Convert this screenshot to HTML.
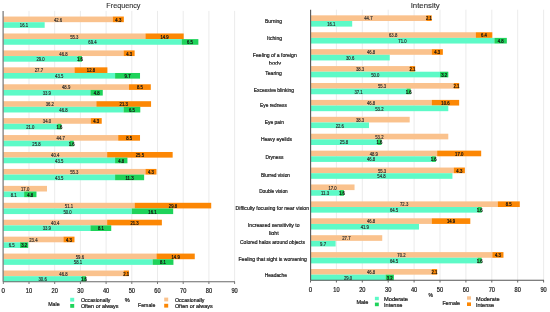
<!DOCTYPE html>
<html><head><meta charset="utf-8"><style>
html,body{margin:0;padding:0;background:#fff;width:550px;height:312px;overflow:hidden}
svg{display:block;filter:blur(0.3px)}
text{font-family:"Liberation Sans", sans-serif}
</style></head><body>
<svg width="550" height="312" viewBox="0 0 550 312">
<rect width="550" height="312" fill="#fff"/>
<line x1="29.00" y1="10.90" x2="29.00" y2="281.80" stroke="#E6E6E6" stroke-width="0.8"/>
<line x1="54.70" y1="10.90" x2="54.70" y2="281.80" stroke="#E6E6E6" stroke-width="0.8"/>
<line x1="80.40" y1="10.90" x2="80.40" y2="281.80" stroke="#E6E6E6" stroke-width="0.8"/>
<line x1="106.10" y1="10.90" x2="106.10" y2="281.80" stroke="#E6E6E6" stroke-width="0.8"/>
<line x1="131.80" y1="10.90" x2="131.80" y2="281.80" stroke="#E6E6E6" stroke-width="0.8"/>
<line x1="157.50" y1="10.90" x2="157.50" y2="281.80" stroke="#E6E6E6" stroke-width="0.8"/>
<line x1="183.20" y1="10.90" x2="183.20" y2="281.80" stroke="#E6E6E6" stroke-width="0.8"/>
<line x1="208.90" y1="10.90" x2="208.90" y2="281.80" stroke="#E6E6E6" stroke-width="0.8"/>
<line x1="234.60" y1="10.90" x2="234.60" y2="281.80" stroke="#E6E6E6" stroke-width="0.8"/>
<rect x="3.30" y="16.54" width="109.48" height="5.64" fill="#FAC28D"/>
<rect x="112.78" y="16.54" width="11.05" height="5.64" fill="#FC8704"/>
<rect x="3.30" y="22.19" width="41.38" height="5.64" fill="#5DFAC7"/>
<text x="58.04" y="21.67" font-size="4.6" fill="#2b2b2b" text-anchor="middle" textLength="8.24" lengthAdjust="spacingAndGlyphs" stroke="#2b2b2b" stroke-width="0.15">42.6</text>
<text x="118.31" y="21.67" font-size="4.6" fill="#141414" text-anchor="middle" textLength="5.88" lengthAdjust="spacingAndGlyphs" stroke="#141414" stroke-width="0.22">4.3</text>
<text x="23.99" y="27.31" font-size="4.6" fill="#2b2b2b" text-anchor="middle" textLength="8.24" lengthAdjust="spacingAndGlyphs" stroke="#2b2b2b" stroke-width="0.15">16.1</text>
<rect x="3.30" y="33.48" width="142.12" height="5.64" fill="#FAC28D"/>
<rect x="145.42" y="33.48" width="38.29" height="5.64" fill="#FC8704"/>
<rect x="3.30" y="39.12" width="178.36" height="5.64" fill="#5DFAC7"/>
<rect x="181.66" y="39.12" width="16.70" height="5.64" fill="#1ED35A"/>
<text x="74.36" y="38.60" font-size="4.6" fill="#2b2b2b" text-anchor="middle" textLength="8.24" lengthAdjust="spacingAndGlyphs" stroke="#2b2b2b" stroke-width="0.15">55.3</text>
<text x="164.57" y="38.60" font-size="4.6" fill="#141414" text-anchor="middle" textLength="8.24" lengthAdjust="spacingAndGlyphs" stroke="#141414" stroke-width="0.22">14.9</text>
<text x="92.48" y="44.24" font-size="4.6" fill="#2b2b2b" text-anchor="middle" textLength="8.24" lengthAdjust="spacingAndGlyphs" stroke="#2b2b2b" stroke-width="0.15">69.4</text>
<text x="190.01" y="44.24" font-size="4.6" fill="#141414" text-anchor="middle" textLength="5.88" lengthAdjust="spacingAndGlyphs" stroke="#141414" stroke-width="0.22">6.5</text>
<rect x="3.30" y="50.41" width="120.28" height="5.64" fill="#FAC28D"/>
<rect x="123.58" y="50.41" width="11.05" height="5.64" fill="#FC8704"/>
<rect x="3.30" y="56.05" width="74.53" height="5.64" fill="#5DFAC7"/>
<rect x="77.83" y="56.05" width="4.11" height="5.64" fill="#1ED35A"/>
<text x="63.44" y="55.53" font-size="4.6" fill="#2b2b2b" text-anchor="middle" textLength="8.24" lengthAdjust="spacingAndGlyphs" stroke="#2b2b2b" stroke-width="0.15">46.8</text>
<text x="129.10" y="55.53" font-size="4.6" fill="#141414" text-anchor="middle" textLength="5.88" lengthAdjust="spacingAndGlyphs" stroke="#141414" stroke-width="0.22">4.3</text>
<text x="40.56" y="61.17" font-size="4.6" fill="#2b2b2b" text-anchor="middle" textLength="8.24" lengthAdjust="spacingAndGlyphs" stroke="#2b2b2b" stroke-width="0.15">29.0</text>
<text x="79.89" y="61.17" font-size="4.6" fill="#141414" text-anchor="middle" textLength="5.88" lengthAdjust="spacingAndGlyphs" stroke="#141414" stroke-width="0.22">1.6</text>
<rect x="3.30" y="67.34" width="71.19" height="5.64" fill="#FAC28D"/>
<rect x="74.49" y="67.34" width="32.90" height="5.64" fill="#FC8704"/>
<rect x="3.30" y="72.98" width="111.79" height="5.64" fill="#5DFAC7"/>
<rect x="115.09" y="72.98" width="24.93" height="5.64" fill="#1ED35A"/>
<text x="38.89" y="72.46" font-size="4.6" fill="#2b2b2b" text-anchor="middle" textLength="8.24" lengthAdjust="spacingAndGlyphs" stroke="#2b2b2b" stroke-width="0.15">27.7</text>
<text x="90.94" y="72.46" font-size="4.6" fill="#141414" text-anchor="middle" textLength="8.24" lengthAdjust="spacingAndGlyphs" stroke="#141414" stroke-width="0.22">12.8</text>
<text x="59.20" y="78.10" font-size="4.6" fill="#2b2b2b" text-anchor="middle" textLength="8.24" lengthAdjust="spacingAndGlyphs" stroke="#2b2b2b" stroke-width="0.15">43.5</text>
<text x="127.56" y="78.10" font-size="4.6" fill="#141414" text-anchor="middle" textLength="5.88" lengthAdjust="spacingAndGlyphs" stroke="#141414" stroke-width="0.22">9.7</text>
<rect x="3.30" y="84.27" width="125.67" height="5.64" fill="#FAC28D"/>
<rect x="128.97" y="84.27" width="21.84" height="5.64" fill="#FC8704"/>
<rect x="3.30" y="89.91" width="87.12" height="5.64" fill="#5DFAC7"/>
<rect x="90.42" y="89.91" width="12.34" height="5.64" fill="#1ED35A"/>
<text x="66.14" y="89.39" font-size="4.6" fill="#2b2b2b" text-anchor="middle" textLength="8.24" lengthAdjust="spacingAndGlyphs" stroke="#2b2b2b" stroke-width="0.15">48.9</text>
<text x="139.90" y="89.39" font-size="4.6" fill="#141414" text-anchor="middle" textLength="5.88" lengthAdjust="spacingAndGlyphs" stroke="#141414" stroke-width="0.22">8.5</text>
<text x="46.86" y="95.03" font-size="4.6" fill="#2b2b2b" text-anchor="middle" textLength="8.24" lengthAdjust="spacingAndGlyphs" stroke="#2b2b2b" stroke-width="0.15">33.9</text>
<text x="96.59" y="95.03" font-size="4.6" fill="#141414" text-anchor="middle" textLength="5.88" lengthAdjust="spacingAndGlyphs" stroke="#141414" stroke-width="0.22">4.8</text>
<rect x="3.30" y="101.20" width="93.03" height="5.64" fill="#FAC28D"/>
<rect x="96.33" y="101.20" width="54.74" height="5.64" fill="#FC8704"/>
<rect x="3.30" y="106.84" width="120.28" height="5.64" fill="#5DFAC7"/>
<rect x="123.58" y="106.84" width="16.70" height="5.64" fill="#1ED35A"/>
<text x="49.82" y="106.32" font-size="4.6" fill="#2b2b2b" text-anchor="middle" textLength="8.24" lengthAdjust="spacingAndGlyphs" stroke="#2b2b2b" stroke-width="0.15">36.2</text>
<text x="123.70" y="106.32" font-size="4.6" fill="#141414" text-anchor="middle" textLength="8.24" lengthAdjust="spacingAndGlyphs" stroke="#141414" stroke-width="0.22">21.3</text>
<text x="63.44" y="111.97" font-size="4.6" fill="#2b2b2b" text-anchor="middle" textLength="8.24" lengthAdjust="spacingAndGlyphs" stroke="#2b2b2b" stroke-width="0.15">46.8</text>
<text x="131.93" y="111.97" font-size="4.6" fill="#141414" text-anchor="middle" textLength="5.88" lengthAdjust="spacingAndGlyphs" stroke="#141414" stroke-width="0.22">6.5</text>
<rect x="3.30" y="118.13" width="87.38" height="5.64" fill="#FAC28D"/>
<rect x="90.68" y="118.13" width="11.05" height="5.64" fill="#FC8704"/>
<rect x="3.30" y="123.78" width="53.97" height="5.64" fill="#5DFAC7"/>
<rect x="57.27" y="123.78" width="4.11" height="5.64" fill="#1ED35A"/>
<text x="46.99" y="123.25" font-size="4.6" fill="#2b2b2b" text-anchor="middle" textLength="8.24" lengthAdjust="spacingAndGlyphs" stroke="#2b2b2b" stroke-width="0.15">34.0</text>
<text x="96.21" y="123.25" font-size="4.6" fill="#141414" text-anchor="middle" textLength="5.88" lengthAdjust="spacingAndGlyphs" stroke="#141414" stroke-width="0.22">4.3</text>
<text x="30.29" y="128.90" font-size="4.6" fill="#2b2b2b" text-anchor="middle" textLength="8.24" lengthAdjust="spacingAndGlyphs" stroke="#2b2b2b" stroke-width="0.15">21.0</text>
<text x="59.33" y="128.90" font-size="4.6" fill="#141414" text-anchor="middle" textLength="5.88" lengthAdjust="spacingAndGlyphs" stroke="#141414" stroke-width="0.22">1.6</text>
<rect x="3.30" y="135.06" width="114.88" height="5.64" fill="#FAC28D"/>
<rect x="118.18" y="135.06" width="21.84" height="5.64" fill="#FC8704"/>
<rect x="3.30" y="140.71" width="66.31" height="5.64" fill="#5DFAC7"/>
<rect x="69.61" y="140.71" width="4.11" height="5.64" fill="#1ED35A"/>
<text x="60.74" y="140.18" font-size="4.6" fill="#2b2b2b" text-anchor="middle" textLength="8.24" lengthAdjust="spacingAndGlyphs" stroke="#2b2b2b" stroke-width="0.15">44.7</text>
<text x="129.10" y="140.18" font-size="4.6" fill="#141414" text-anchor="middle" textLength="5.88" lengthAdjust="spacingAndGlyphs" stroke="#141414" stroke-width="0.22">8.5</text>
<text x="36.45" y="145.83" font-size="4.6" fill="#2b2b2b" text-anchor="middle" textLength="8.24" lengthAdjust="spacingAndGlyphs" stroke="#2b2b2b" stroke-width="0.15">25.8</text>
<text x="71.66" y="145.83" font-size="4.6" fill="#141414" text-anchor="middle" textLength="5.88" lengthAdjust="spacingAndGlyphs" stroke="#141414" stroke-width="0.22">1.6</text>
<rect x="3.30" y="151.99" width="103.83" height="5.64" fill="#FAC28D"/>
<rect x="107.13" y="151.99" width="65.53" height="5.64" fill="#FC8704"/>
<rect x="3.30" y="157.64" width="111.79" height="5.64" fill="#5DFAC7"/>
<rect x="115.09" y="157.64" width="12.34" height="5.64" fill="#1ED35A"/>
<text x="55.21" y="157.12" font-size="4.6" fill="#2b2b2b" text-anchor="middle" textLength="8.24" lengthAdjust="spacingAndGlyphs" stroke="#2b2b2b" stroke-width="0.15">40.4</text>
<text x="139.90" y="157.12" font-size="4.6" fill="#141414" text-anchor="middle" textLength="8.24" lengthAdjust="spacingAndGlyphs" stroke="#141414" stroke-width="0.22">25.5</text>
<text x="59.20" y="162.76" font-size="4.6" fill="#2b2b2b" text-anchor="middle" textLength="8.24" lengthAdjust="spacingAndGlyphs" stroke="#2b2b2b" stroke-width="0.15">43.5</text>
<text x="121.26" y="162.76" font-size="4.6" fill="#141414" text-anchor="middle" textLength="5.88" lengthAdjust="spacingAndGlyphs" stroke="#141414" stroke-width="0.22">4.8</text>
<rect x="3.30" y="168.93" width="142.12" height="5.64" fill="#FAC28D"/>
<rect x="145.42" y="168.93" width="11.05" height="5.64" fill="#FC8704"/>
<rect x="3.30" y="174.57" width="111.79" height="5.64" fill="#5DFAC7"/>
<rect x="115.09" y="174.57" width="29.04" height="5.64" fill="#1ED35A"/>
<text x="74.36" y="174.05" font-size="4.6" fill="#2b2b2b" text-anchor="middle" textLength="8.24" lengthAdjust="spacingAndGlyphs" stroke="#2b2b2b" stroke-width="0.15">55.3</text>
<text x="150.95" y="174.05" font-size="4.6" fill="#141414" text-anchor="middle" textLength="5.88" lengthAdjust="spacingAndGlyphs" stroke="#141414" stroke-width="0.22">4.3</text>
<text x="59.20" y="179.69" font-size="4.6" fill="#2b2b2b" text-anchor="middle" textLength="8.24" lengthAdjust="spacingAndGlyphs" stroke="#2b2b2b" stroke-width="0.15">43.5</text>
<text x="129.62" y="179.69" font-size="4.6" fill="#141414" text-anchor="middle" textLength="8.24" lengthAdjust="spacingAndGlyphs" stroke="#141414" stroke-width="0.22">11.3</text>
<rect x="3.30" y="185.86" width="43.69" height="5.64" fill="#FAC28D"/>
<rect x="3.30" y="191.50" width="20.82" height="5.64" fill="#5DFAC7"/>
<rect x="24.12" y="191.50" width="12.34" height="5.64" fill="#1ED35A"/>
<text x="25.14" y="190.98" font-size="4.6" fill="#2b2b2b" text-anchor="middle" textLength="8.24" lengthAdjust="spacingAndGlyphs" stroke="#2b2b2b" stroke-width="0.15">17.0</text>
<text x="13.71" y="196.62" font-size="4.6" fill="#2b2b2b" text-anchor="middle" textLength="5.88" lengthAdjust="spacingAndGlyphs" stroke="#2b2b2b" stroke-width="0.15">8.1</text>
<text x="30.29" y="196.62" font-size="4.6" fill="#141414" text-anchor="middle" textLength="5.88" lengthAdjust="spacingAndGlyphs" stroke="#141414" stroke-width="0.22">4.8</text>
<rect x="3.30" y="202.79" width="131.33" height="5.64" fill="#FAC28D"/>
<rect x="134.63" y="202.79" width="76.59" height="5.64" fill="#FC8704"/>
<rect x="3.30" y="208.43" width="128.50" height="5.64" fill="#5DFAC7"/>
<rect x="131.80" y="208.43" width="41.38" height="5.64" fill="#1ED35A"/>
<text x="68.96" y="207.91" font-size="4.6" fill="#2b2b2b" text-anchor="middle" textLength="8.24" lengthAdjust="spacingAndGlyphs" stroke="#2b2b2b" stroke-width="0.15">51.1</text>
<text x="172.92" y="207.91" font-size="4.6" fill="#141414" text-anchor="middle" textLength="8.24" lengthAdjust="spacingAndGlyphs" stroke="#141414" stroke-width="0.22">29.8</text>
<text x="67.55" y="213.55" font-size="4.6" fill="#2b2b2b" text-anchor="middle" textLength="8.24" lengthAdjust="spacingAndGlyphs" stroke="#2b2b2b" stroke-width="0.15">50.0</text>
<text x="152.49" y="213.55" font-size="4.6" fill="#141414" text-anchor="middle" textLength="8.24" lengthAdjust="spacingAndGlyphs" stroke="#141414" stroke-width="0.22">16.1</text>
<rect x="3.30" y="219.72" width="103.83" height="5.64" fill="#FAC28D"/>
<rect x="107.13" y="219.72" width="54.74" height="5.64" fill="#FC8704"/>
<rect x="3.30" y="225.36" width="87.12" height="5.64" fill="#5DFAC7"/>
<rect x="90.42" y="225.36" width="20.82" height="5.64" fill="#1ED35A"/>
<text x="55.21" y="224.84" font-size="4.6" fill="#2b2b2b" text-anchor="middle" textLength="8.24" lengthAdjust="spacingAndGlyphs" stroke="#2b2b2b" stroke-width="0.15">40.4</text>
<text x="134.50" y="224.84" font-size="4.6" fill="#141414" text-anchor="middle" textLength="8.24" lengthAdjust="spacingAndGlyphs" stroke="#141414" stroke-width="0.22">21.3</text>
<text x="46.86" y="230.48" font-size="4.6" fill="#2b2b2b" text-anchor="middle" textLength="8.24" lengthAdjust="spacingAndGlyphs" stroke="#2b2b2b" stroke-width="0.15">33.9</text>
<text x="100.83" y="230.48" font-size="4.6" fill="#141414" text-anchor="middle" textLength="5.88" lengthAdjust="spacingAndGlyphs" stroke="#141414" stroke-width="0.22">8.1</text>
<rect x="3.30" y="236.65" width="60.14" height="5.64" fill="#FAC28D"/>
<rect x="63.44" y="236.65" width="11.05" height="5.64" fill="#FC8704"/>
<rect x="3.30" y="242.29" width="16.70" height="5.64" fill="#5DFAC7"/>
<rect x="20.00" y="242.29" width="8.22" height="5.64" fill="#1ED35A"/>
<text x="33.37" y="241.77" font-size="4.6" fill="#2b2b2b" text-anchor="middle" textLength="8.24" lengthAdjust="spacingAndGlyphs" stroke="#2b2b2b" stroke-width="0.15">23.4</text>
<text x="68.96" y="241.77" font-size="4.6" fill="#141414" text-anchor="middle" textLength="5.88" lengthAdjust="spacingAndGlyphs" stroke="#141414" stroke-width="0.22">4.3</text>
<text x="11.65" y="247.42" font-size="4.6" fill="#2b2b2b" text-anchor="middle" textLength="5.88" lengthAdjust="spacingAndGlyphs" stroke="#2b2b2b" stroke-width="0.15">6.5</text>
<text x="24.12" y="247.42" font-size="4.6" fill="#141414" text-anchor="middle" textLength="5.88" lengthAdjust="spacingAndGlyphs" stroke="#141414" stroke-width="0.22">3.2</text>
<rect x="3.30" y="253.58" width="153.17" height="5.64" fill="#FAC28D"/>
<rect x="156.47" y="253.58" width="38.29" height="5.64" fill="#FC8704"/>
<rect x="3.30" y="259.23" width="149.32" height="5.64" fill="#5DFAC7"/>
<rect x="152.62" y="259.23" width="20.82" height="5.64" fill="#1ED35A"/>
<text x="79.89" y="258.70" font-size="4.6" fill="#2b2b2b" text-anchor="middle" textLength="8.24" lengthAdjust="spacingAndGlyphs" stroke="#2b2b2b" stroke-width="0.15">59.6</text>
<text x="175.62" y="258.70" font-size="4.6" fill="#141414" text-anchor="middle" textLength="8.24" lengthAdjust="spacingAndGlyphs" stroke="#141414" stroke-width="0.22">14.9</text>
<text x="77.96" y="264.35" font-size="4.6" fill="#2b2b2b" text-anchor="middle" textLength="8.24" lengthAdjust="spacingAndGlyphs" stroke="#2b2b2b" stroke-width="0.15">58.1</text>
<text x="163.03" y="264.35" font-size="4.6" fill="#141414" text-anchor="middle" textLength="5.88" lengthAdjust="spacingAndGlyphs" stroke="#141414" stroke-width="0.22">8.1</text>
<rect x="3.30" y="270.51" width="120.28" height="5.64" fill="#FAC28D"/>
<rect x="123.58" y="270.51" width="5.40" height="5.64" fill="#FC8704"/>
<rect x="3.30" y="276.16" width="78.64" height="5.64" fill="#5DFAC7"/>
<rect x="81.94" y="276.16" width="4.11" height="5.64" fill="#1ED35A"/>
<text x="63.44" y="275.63" font-size="4.6" fill="#2b2b2b" text-anchor="middle" textLength="8.24" lengthAdjust="spacingAndGlyphs" stroke="#2b2b2b" stroke-width="0.15">46.8</text>
<text x="126.27" y="275.63" font-size="4.6" fill="#141414" text-anchor="middle" textLength="5.88" lengthAdjust="spacingAndGlyphs" stroke="#141414" stroke-width="0.22">2.1</text>
<text x="42.62" y="281.28" font-size="4.6" fill="#2b2b2b" text-anchor="middle" textLength="8.24" lengthAdjust="spacingAndGlyphs" stroke="#2b2b2b" stroke-width="0.15">30.6</text>
<text x="84.00" y="281.28" font-size="4.6" fill="#141414" text-anchor="middle" textLength="5.88" lengthAdjust="spacingAndGlyphs" stroke="#141414" stroke-width="0.22">1.6</text>
<line x1="3.10" y1="10.90" x2="3.10" y2="281.80" stroke="#6a6a6a" stroke-width="1.1"/>
<line x1="3.10" y1="281.80" x2="235.00" y2="281.80" stroke="#6a6a6a" stroke-width="1.1"/>
<line x1="3.30" y1="281.80" x2="3.30" y2="284.00" stroke="#6a6a6a" stroke-width="0.9"/>
<text x="3.30" y="293.10" font-size="6.5" fill="#202020" text-anchor="middle" textLength="3.40" lengthAdjust="spacingAndGlyphs" stroke="#202020" stroke-width="0.22">0</text>
<line x1="29.00" y1="281.80" x2="29.00" y2="284.00" stroke="#6a6a6a" stroke-width="0.9"/>
<text x="29.00" y="293.10" font-size="6.5" fill="#202020" text-anchor="middle" textLength="6.30" lengthAdjust="spacingAndGlyphs" stroke="#202020" stroke-width="0.22">10</text>
<line x1="54.70" y1="281.80" x2="54.70" y2="284.00" stroke="#6a6a6a" stroke-width="0.9"/>
<text x="54.70" y="293.10" font-size="6.5" fill="#202020" text-anchor="middle" textLength="6.30" lengthAdjust="spacingAndGlyphs" stroke="#202020" stroke-width="0.22">20</text>
<line x1="80.40" y1="281.80" x2="80.40" y2="284.00" stroke="#6a6a6a" stroke-width="0.9"/>
<text x="80.40" y="293.10" font-size="6.5" fill="#202020" text-anchor="middle" textLength="6.30" lengthAdjust="spacingAndGlyphs" stroke="#202020" stroke-width="0.22">30</text>
<line x1="106.10" y1="281.80" x2="106.10" y2="284.00" stroke="#6a6a6a" stroke-width="0.9"/>
<text x="106.10" y="293.10" font-size="6.5" fill="#202020" text-anchor="middle" textLength="6.30" lengthAdjust="spacingAndGlyphs" stroke="#202020" stroke-width="0.22">40</text>
<line x1="131.80" y1="281.80" x2="131.80" y2="284.00" stroke="#6a6a6a" stroke-width="0.9"/>
<text x="131.80" y="293.10" font-size="6.5" fill="#202020" text-anchor="middle" textLength="6.30" lengthAdjust="spacingAndGlyphs" stroke="#202020" stroke-width="0.22">50</text>
<line x1="157.50" y1="281.80" x2="157.50" y2="284.00" stroke="#6a6a6a" stroke-width="0.9"/>
<text x="157.50" y="293.10" font-size="6.5" fill="#202020" text-anchor="middle" textLength="6.30" lengthAdjust="spacingAndGlyphs" stroke="#202020" stroke-width="0.22">60</text>
<line x1="183.20" y1="281.80" x2="183.20" y2="284.00" stroke="#6a6a6a" stroke-width="0.9"/>
<text x="183.20" y="293.10" font-size="6.5" fill="#202020" text-anchor="middle" textLength="6.30" lengthAdjust="spacingAndGlyphs" stroke="#202020" stroke-width="0.22">70</text>
<line x1="208.90" y1="281.80" x2="208.90" y2="284.00" stroke="#6a6a6a" stroke-width="0.9"/>
<text x="208.90" y="293.10" font-size="6.5" fill="#202020" text-anchor="middle" textLength="6.30" lengthAdjust="spacingAndGlyphs" stroke="#202020" stroke-width="0.22">80</text>
<line x1="234.60" y1="281.80" x2="234.60" y2="284.00" stroke="#6a6a6a" stroke-width="0.9"/>
<text x="234.60" y="293.10" font-size="6.5" fill="#202020" text-anchor="middle" textLength="6.30" lengthAdjust="spacingAndGlyphs" stroke="#202020" stroke-width="0.22">90</text>
<line x1="336.40" y1="9.70" x2="336.40" y2="280.30" stroke="#E6E6E6" stroke-width="0.8"/>
<line x1="362.30" y1="9.70" x2="362.30" y2="280.30" stroke="#E6E6E6" stroke-width="0.8"/>
<line x1="388.20" y1="9.70" x2="388.20" y2="280.30" stroke="#E6E6E6" stroke-width="0.8"/>
<line x1="414.10" y1="9.70" x2="414.10" y2="280.30" stroke="#E6E6E6" stroke-width="0.8"/>
<line x1="440.00" y1="9.70" x2="440.00" y2="280.30" stroke="#E6E6E6" stroke-width="0.8"/>
<line x1="465.90" y1="9.70" x2="465.90" y2="280.30" stroke="#E6E6E6" stroke-width="0.8"/>
<line x1="491.80" y1="9.70" x2="491.80" y2="280.30" stroke="#E6E6E6" stroke-width="0.8"/>
<line x1="517.70" y1="9.70" x2="517.70" y2="280.30" stroke="#E6E6E6" stroke-width="0.8"/>
<line x1="543.60" y1="9.70" x2="543.60" y2="280.30" stroke="#E6E6E6" stroke-width="0.8"/>
<rect x="310.50" y="15.34" width="115.77" height="5.64" fill="#FAC28D"/>
<rect x="426.27" y="15.34" width="5.44" height="5.64" fill="#FC8704"/>
<rect x="310.50" y="20.98" width="41.70" height="5.64" fill="#5DFAC7"/>
<text x="368.39" y="20.46" font-size="4.6" fill="#2b2b2b" text-anchor="middle" textLength="8.24" lengthAdjust="spacingAndGlyphs" stroke="#2b2b2b" stroke-width="0.15">44.7</text>
<text x="428.99" y="20.46" font-size="4.6" fill="#141414" text-anchor="middle" textLength="5.88" lengthAdjust="spacingAndGlyphs" stroke="#141414" stroke-width="0.22">2.1</text>
<text x="331.35" y="26.09" font-size="4.6" fill="#2b2b2b" text-anchor="middle" textLength="8.24" lengthAdjust="spacingAndGlyphs" stroke="#2b2b2b" stroke-width="0.15">16.1</text>
<rect x="310.50" y="32.25" width="165.24" height="5.64" fill="#FAC28D"/>
<rect x="475.74" y="32.25" width="16.58" height="5.64" fill="#FC8704"/>
<rect x="310.50" y="37.89" width="183.89" height="5.64" fill="#5DFAC7"/>
<rect x="494.39" y="37.89" width="12.43" height="5.64" fill="#1ED35A"/>
<text x="393.12" y="37.37" font-size="4.6" fill="#2b2b2b" text-anchor="middle" textLength="8.24" lengthAdjust="spacingAndGlyphs" stroke="#2b2b2b" stroke-width="0.15">63.8</text>
<text x="484.03" y="37.37" font-size="4.6" fill="#141414" text-anchor="middle" textLength="5.88" lengthAdjust="spacingAndGlyphs" stroke="#141414" stroke-width="0.22">6.4</text>
<text x="402.44" y="43.01" font-size="4.6" fill="#2b2b2b" text-anchor="middle" textLength="8.24" lengthAdjust="spacingAndGlyphs" stroke="#2b2b2b" stroke-width="0.15">71.0</text>
<text x="500.61" y="43.01" font-size="4.6" fill="#141414" text-anchor="middle" textLength="5.88" lengthAdjust="spacingAndGlyphs" stroke="#141414" stroke-width="0.22">4.8</text>
<rect x="310.50" y="49.16" width="121.21" height="5.64" fill="#FAC28D"/>
<rect x="431.71" y="49.16" width="11.14" height="5.64" fill="#FC8704"/>
<rect x="310.50" y="54.80" width="79.25" height="5.64" fill="#5DFAC7"/>
<text x="371.11" y="54.28" font-size="4.6" fill="#2b2b2b" text-anchor="middle" textLength="8.24" lengthAdjust="spacingAndGlyphs" stroke="#2b2b2b" stroke-width="0.15">46.8</text>
<text x="437.28" y="54.28" font-size="4.6" fill="#141414" text-anchor="middle" textLength="5.88" lengthAdjust="spacingAndGlyphs" stroke="#141414" stroke-width="0.22">4.3</text>
<text x="350.13" y="59.92" font-size="4.6" fill="#2b2b2b" text-anchor="middle" textLength="8.24" lengthAdjust="spacingAndGlyphs" stroke="#2b2b2b" stroke-width="0.15">30.6</text>
<rect x="310.50" y="66.08" width="99.20" height="5.64" fill="#FAC28D"/>
<rect x="409.70" y="66.08" width="5.44" height="5.64" fill="#FC8704"/>
<rect x="310.50" y="71.71" width="129.50" height="5.64" fill="#5DFAC7"/>
<rect x="440.00" y="71.71" width="8.29" height="5.64" fill="#1ED35A"/>
<text x="360.10" y="71.19" font-size="4.6" fill="#2b2b2b" text-anchor="middle" textLength="8.24" lengthAdjust="spacingAndGlyphs" stroke="#2b2b2b" stroke-width="0.15">38.3</text>
<text x="412.42" y="71.19" font-size="4.6" fill="#141414" text-anchor="middle" textLength="5.88" lengthAdjust="spacingAndGlyphs" stroke="#141414" stroke-width="0.22">2.1</text>
<text x="375.25" y="76.83" font-size="4.6" fill="#2b2b2b" text-anchor="middle" textLength="8.24" lengthAdjust="spacingAndGlyphs" stroke="#2b2b2b" stroke-width="0.15">50.0</text>
<text x="444.14" y="76.83" font-size="4.6" fill="#141414" text-anchor="middle" textLength="5.88" lengthAdjust="spacingAndGlyphs" stroke="#141414" stroke-width="0.22">3.2</text>
<rect x="310.50" y="82.99" width="143.23" height="5.64" fill="#FAC28D"/>
<rect x="453.73" y="82.99" width="5.44" height="5.64" fill="#FC8704"/>
<rect x="310.50" y="88.63" width="96.09" height="5.64" fill="#5DFAC7"/>
<rect x="406.59" y="88.63" width="4.14" height="5.64" fill="#1ED35A"/>
<text x="382.11" y="88.11" font-size="4.6" fill="#2b2b2b" text-anchor="middle" textLength="8.24" lengthAdjust="spacingAndGlyphs" stroke="#2b2b2b" stroke-width="0.15">55.3</text>
<text x="456.45" y="88.11" font-size="4.6" fill="#141414" text-anchor="middle" textLength="5.88" lengthAdjust="spacingAndGlyphs" stroke="#141414" stroke-width="0.22">2.1</text>
<text x="358.54" y="93.74" font-size="4.6" fill="#2b2b2b" text-anchor="middle" textLength="8.24" lengthAdjust="spacingAndGlyphs" stroke="#2b2b2b" stroke-width="0.15">37.1</text>
<text x="408.66" y="93.74" font-size="4.6" fill="#141414" text-anchor="middle" textLength="5.88" lengthAdjust="spacingAndGlyphs" stroke="#141414" stroke-width="0.22">1.6</text>
<rect x="310.50" y="99.90" width="121.21" height="5.64" fill="#FAC28D"/>
<rect x="431.71" y="99.90" width="27.45" height="5.64" fill="#FC8704"/>
<rect x="310.50" y="105.54" width="137.79" height="5.64" fill="#5DFAC7"/>
<text x="371.11" y="105.02" font-size="4.6" fill="#2b2b2b" text-anchor="middle" textLength="8.24" lengthAdjust="spacingAndGlyphs" stroke="#2b2b2b" stroke-width="0.15">46.8</text>
<text x="445.44" y="105.02" font-size="4.6" fill="#141414" text-anchor="middle" textLength="8.24" lengthAdjust="spacingAndGlyphs" stroke="#141414" stroke-width="0.22">10.6</text>
<text x="379.39" y="110.66" font-size="4.6" fill="#2b2b2b" text-anchor="middle" textLength="8.24" lengthAdjust="spacingAndGlyphs" stroke="#2b2b2b" stroke-width="0.15">53.2</text>
<rect x="310.50" y="116.81" width="99.20" height="5.64" fill="#FAC28D"/>
<rect x="310.50" y="122.45" width="58.53" height="5.64" fill="#5DFAC7"/>
<text x="360.10" y="121.93" font-size="4.6" fill="#2b2b2b" text-anchor="middle" textLength="8.24" lengthAdjust="spacingAndGlyphs" stroke="#2b2b2b" stroke-width="0.15">38.3</text>
<text x="339.77" y="127.57" font-size="4.6" fill="#2b2b2b" text-anchor="middle" textLength="8.24" lengthAdjust="spacingAndGlyphs" stroke="#2b2b2b" stroke-width="0.15">22.6</text>
<rect x="310.50" y="133.72" width="137.79" height="5.64" fill="#FAC28D"/>
<rect x="310.50" y="139.36" width="66.82" height="5.64" fill="#5DFAC7"/>
<rect x="377.32" y="139.36" width="4.14" height="5.64" fill="#1ED35A"/>
<text x="379.39" y="138.84" font-size="4.6" fill="#2b2b2b" text-anchor="middle" textLength="8.24" lengthAdjust="spacingAndGlyphs" stroke="#2b2b2b" stroke-width="0.15">53.2</text>
<text x="343.91" y="144.48" font-size="4.6" fill="#2b2b2b" text-anchor="middle" textLength="8.24" lengthAdjust="spacingAndGlyphs" stroke="#2b2b2b" stroke-width="0.15">25.8</text>
<text x="379.39" y="144.48" font-size="4.6" fill="#141414" text-anchor="middle" textLength="5.88" lengthAdjust="spacingAndGlyphs" stroke="#141414" stroke-width="0.22">1.6</text>
<rect x="310.50" y="150.64" width="126.65" height="5.64" fill="#FAC28D"/>
<rect x="437.15" y="150.64" width="44.03" height="5.64" fill="#FC8704"/>
<rect x="310.50" y="156.28" width="121.21" height="5.64" fill="#5DFAC7"/>
<rect x="431.71" y="156.28" width="4.14" height="5.64" fill="#1ED35A"/>
<text x="373.83" y="155.76" font-size="4.6" fill="#2b2b2b" text-anchor="middle" textLength="8.24" lengthAdjust="spacingAndGlyphs" stroke="#2b2b2b" stroke-width="0.15">48.9</text>
<text x="459.17" y="155.76" font-size="4.6" fill="#141414" text-anchor="middle" textLength="8.24" lengthAdjust="spacingAndGlyphs" stroke="#141414" stroke-width="0.22">17.0</text>
<text x="371.11" y="161.39" font-size="4.6" fill="#2b2b2b" text-anchor="middle" textLength="8.24" lengthAdjust="spacingAndGlyphs" stroke="#2b2b2b" stroke-width="0.15">46.8</text>
<text x="433.78" y="161.39" font-size="4.6" fill="#141414" text-anchor="middle" textLength="5.88" lengthAdjust="spacingAndGlyphs" stroke="#141414" stroke-width="0.22">1.6</text>
<rect x="310.50" y="167.55" width="143.23" height="5.64" fill="#FAC28D"/>
<rect x="453.73" y="167.55" width="11.14" height="5.64" fill="#FC8704"/>
<rect x="310.50" y="173.19" width="141.93" height="5.64" fill="#5DFAC7"/>
<text x="382.11" y="172.67" font-size="4.6" fill="#2b2b2b" text-anchor="middle" textLength="8.24" lengthAdjust="spacingAndGlyphs" stroke="#2b2b2b" stroke-width="0.15">55.3</text>
<text x="459.30" y="172.67" font-size="4.6" fill="#141414" text-anchor="middle" textLength="5.88" lengthAdjust="spacingAndGlyphs" stroke="#141414" stroke-width="0.22">4.3</text>
<text x="381.47" y="178.31" font-size="4.6" fill="#2b2b2b" text-anchor="middle" textLength="8.24" lengthAdjust="spacingAndGlyphs" stroke="#2b2b2b" stroke-width="0.15">54.8</text>
<rect x="310.50" y="184.46" width="44.03" height="5.64" fill="#FAC28D"/>
<rect x="310.50" y="190.10" width="29.27" height="5.64" fill="#5DFAC7"/>
<rect x="339.77" y="190.10" width="4.14" height="5.64" fill="#1ED35A"/>
<text x="332.51" y="189.58" font-size="4.6" fill="#2b2b2b" text-anchor="middle" textLength="8.24" lengthAdjust="spacingAndGlyphs" stroke="#2b2b2b" stroke-width="0.15">17.0</text>
<text x="325.13" y="195.22" font-size="4.6" fill="#2b2b2b" text-anchor="middle" textLength="8.24" lengthAdjust="spacingAndGlyphs" stroke="#2b2b2b" stroke-width="0.15">11.3</text>
<text x="341.84" y="195.22" font-size="4.6" fill="#141414" text-anchor="middle" textLength="5.88" lengthAdjust="spacingAndGlyphs" stroke="#141414" stroke-width="0.22">1.6</text>
<rect x="310.50" y="201.38" width="187.26" height="5.64" fill="#FAC28D"/>
<rect x="497.76" y="201.38" width="22.02" height="5.64" fill="#FC8704"/>
<rect x="310.50" y="207.01" width="167.05" height="5.64" fill="#5DFAC7"/>
<rect x="477.55" y="207.01" width="4.14" height="5.64" fill="#1ED35A"/>
<text x="404.13" y="206.49" font-size="4.6" fill="#2b2b2b" text-anchor="middle" textLength="8.24" lengthAdjust="spacingAndGlyphs" stroke="#2b2b2b" stroke-width="0.15">72.3</text>
<text x="508.76" y="206.49" font-size="4.6" fill="#141414" text-anchor="middle" textLength="5.88" lengthAdjust="spacingAndGlyphs" stroke="#141414" stroke-width="0.22">8.5</text>
<text x="394.03" y="212.13" font-size="4.6" fill="#2b2b2b" text-anchor="middle" textLength="8.24" lengthAdjust="spacingAndGlyphs" stroke="#2b2b2b" stroke-width="0.15">64.5</text>
<text x="479.63" y="212.13" font-size="4.6" fill="#141414" text-anchor="middle" textLength="5.88" lengthAdjust="spacingAndGlyphs" stroke="#141414" stroke-width="0.22">1.6</text>
<rect x="310.50" y="218.29" width="121.21" height="5.64" fill="#FAC28D"/>
<rect x="431.71" y="218.29" width="38.59" height="5.64" fill="#FC8704"/>
<rect x="310.50" y="223.93" width="108.52" height="5.64" fill="#5DFAC7"/>
<text x="371.11" y="223.41" font-size="4.6" fill="#2b2b2b" text-anchor="middle" textLength="8.24" lengthAdjust="spacingAndGlyphs" stroke="#2b2b2b" stroke-width="0.15">46.8</text>
<text x="451.01" y="223.41" font-size="4.6" fill="#141414" text-anchor="middle" textLength="8.24" lengthAdjust="spacingAndGlyphs" stroke="#141414" stroke-width="0.22">14.9</text>
<text x="364.76" y="229.04" font-size="4.6" fill="#2b2b2b" text-anchor="middle" textLength="8.24" lengthAdjust="spacingAndGlyphs" stroke="#2b2b2b" stroke-width="0.15">41.9</text>
<rect x="310.50" y="235.20" width="71.74" height="5.64" fill="#FAC28D"/>
<rect x="310.50" y="240.84" width="25.12" height="5.64" fill="#5DFAC7"/>
<text x="346.37" y="240.32" font-size="4.6" fill="#2b2b2b" text-anchor="middle" textLength="8.24" lengthAdjust="spacingAndGlyphs" stroke="#2b2b2b" stroke-width="0.15">27.7</text>
<text x="323.06" y="245.96" font-size="4.6" fill="#2b2b2b" text-anchor="middle" textLength="5.88" lengthAdjust="spacingAndGlyphs" stroke="#2b2b2b" stroke-width="0.15">9.7</text>
<rect x="310.50" y="252.11" width="181.82" height="5.64" fill="#FAC28D"/>
<rect x="492.32" y="252.11" width="11.14" height="5.64" fill="#FC8704"/>
<rect x="310.50" y="257.75" width="167.05" height="5.64" fill="#5DFAC7"/>
<rect x="477.55" y="257.75" width="4.14" height="5.64" fill="#1ED35A"/>
<text x="401.41" y="257.23" font-size="4.6" fill="#2b2b2b" text-anchor="middle" textLength="8.24" lengthAdjust="spacingAndGlyphs" stroke="#2b2b2b" stroke-width="0.15">70.2</text>
<text x="497.89" y="257.23" font-size="4.6" fill="#141414" text-anchor="middle" textLength="5.88" lengthAdjust="spacingAndGlyphs" stroke="#141414" stroke-width="0.22">4.3</text>
<text x="394.03" y="262.87" font-size="4.6" fill="#2b2b2b" text-anchor="middle" textLength="8.24" lengthAdjust="spacingAndGlyphs" stroke="#2b2b2b" stroke-width="0.15">64.5</text>
<text x="479.63" y="262.87" font-size="4.6" fill="#141414" text-anchor="middle" textLength="5.88" lengthAdjust="spacingAndGlyphs" stroke="#141414" stroke-width="0.22">1.6</text>
<rect x="310.50" y="269.03" width="121.21" height="5.64" fill="#FAC28D"/>
<rect x="431.71" y="269.03" width="5.44" height="5.64" fill="#FC8704"/>
<rect x="310.50" y="274.66" width="75.11" height="5.64" fill="#5DFAC7"/>
<rect x="385.61" y="274.66" width="8.29" height="5.64" fill="#1ED35A"/>
<text x="371.11" y="274.14" font-size="4.6" fill="#2b2b2b" text-anchor="middle" textLength="8.24" lengthAdjust="spacingAndGlyphs" stroke="#2b2b2b" stroke-width="0.15">46.8</text>
<text x="434.43" y="274.14" font-size="4.6" fill="#141414" text-anchor="middle" textLength="5.88" lengthAdjust="spacingAndGlyphs" stroke="#141414" stroke-width="0.22">2.1</text>
<text x="348.06" y="279.78" font-size="4.6" fill="#2b2b2b" text-anchor="middle" textLength="8.24" lengthAdjust="spacingAndGlyphs" stroke="#2b2b2b" stroke-width="0.15">29.0</text>
<text x="389.75" y="279.78" font-size="4.6" fill="#141414" text-anchor="middle" textLength="5.88" lengthAdjust="spacingAndGlyphs" stroke="#141414" stroke-width="0.22">3.2</text>
<line x1="310.60" y1="9.70" x2="310.60" y2="280.30" stroke="#555555" stroke-width="1.1"/>
<line x1="310.60" y1="280.30" x2="544.00" y2="280.30" stroke="#555555" stroke-width="1.1"/>
<line x1="310.50" y1="280.30" x2="310.50" y2="282.50" stroke="#555555" stroke-width="0.9"/>
<text x="310.50" y="291.60" font-size="6.5" fill="#202020" text-anchor="middle" textLength="3.40" lengthAdjust="spacingAndGlyphs" stroke="#202020" stroke-width="0.22">0</text>
<line x1="336.40" y1="280.30" x2="336.40" y2="282.50" stroke="#555555" stroke-width="0.9"/>
<text x="336.40" y="291.60" font-size="6.5" fill="#202020" text-anchor="middle" textLength="6.30" lengthAdjust="spacingAndGlyphs" stroke="#202020" stroke-width="0.22">10</text>
<line x1="362.30" y1="280.30" x2="362.30" y2="282.50" stroke="#555555" stroke-width="0.9"/>
<text x="362.30" y="291.60" font-size="6.5" fill="#202020" text-anchor="middle" textLength="6.30" lengthAdjust="spacingAndGlyphs" stroke="#202020" stroke-width="0.22">20</text>
<line x1="388.20" y1="280.30" x2="388.20" y2="282.50" stroke="#555555" stroke-width="0.9"/>
<text x="388.20" y="291.60" font-size="6.5" fill="#202020" text-anchor="middle" textLength="6.30" lengthAdjust="spacingAndGlyphs" stroke="#202020" stroke-width="0.22">30</text>
<line x1="414.10" y1="280.30" x2="414.10" y2="282.50" stroke="#555555" stroke-width="0.9"/>
<text x="414.10" y="291.60" font-size="6.5" fill="#202020" text-anchor="middle" textLength="6.30" lengthAdjust="spacingAndGlyphs" stroke="#202020" stroke-width="0.22">40</text>
<line x1="440.00" y1="280.30" x2="440.00" y2="282.50" stroke="#555555" stroke-width="0.9"/>
<text x="440.00" y="291.60" font-size="6.5" fill="#202020" text-anchor="middle" textLength="6.30" lengthAdjust="spacingAndGlyphs" stroke="#202020" stroke-width="0.22">50</text>
<line x1="465.90" y1="280.30" x2="465.90" y2="282.50" stroke="#555555" stroke-width="0.9"/>
<text x="465.90" y="291.60" font-size="6.5" fill="#202020" text-anchor="middle" textLength="6.30" lengthAdjust="spacingAndGlyphs" stroke="#202020" stroke-width="0.22">60</text>
<line x1="491.80" y1="280.30" x2="491.80" y2="282.50" stroke="#555555" stroke-width="0.9"/>
<text x="491.80" y="291.60" font-size="6.5" fill="#202020" text-anchor="middle" textLength="6.30" lengthAdjust="spacingAndGlyphs" stroke="#202020" stroke-width="0.22">70</text>
<line x1="517.70" y1="280.30" x2="517.70" y2="282.50" stroke="#555555" stroke-width="0.9"/>
<text x="517.70" y="291.60" font-size="6.5" fill="#202020" text-anchor="middle" textLength="6.30" lengthAdjust="spacingAndGlyphs" stroke="#202020" stroke-width="0.22">80</text>
<line x1="543.60" y1="280.30" x2="543.60" y2="282.50" stroke="#555555" stroke-width="0.9"/>
<text x="543.60" y="291.60" font-size="6.5" fill="#202020" text-anchor="middle" textLength="6.30" lengthAdjust="spacingAndGlyphs" stroke="#202020" stroke-width="0.22">90</text>
<text x="123.40" y="7.70" font-size="6.4" fill="#303030" text-anchor="middle" textLength="34.10" lengthAdjust="spacingAndGlyphs" stroke="#303030" stroke-width="0.1">Frequency</text>
<text x="425.20" y="7.70" font-size="6.4" fill="#303030" text-anchor="middle" textLength="29.10" lengthAdjust="spacingAndGlyphs" stroke="#303030" stroke-width="0.1">Intensity</text>
<defs><clipPath id="cb"><rect x="240" y="50" width="70" height="14.5"/></clipPath><clipPath id="cl"><rect x="240" y="226" width="70" height="9.0"/></clipPath></defs>
<text x="273.50" y="22.90" font-size="5.5" fill="#202020" text-anchor="middle" textLength="17.10" lengthAdjust="spacingAndGlyphs" stroke="#202020" stroke-width="0.22">Burning</text>
<text x="274.60" y="40.20" font-size="5.5" fill="#202020" text-anchor="middle" textLength="15.00" lengthAdjust="spacingAndGlyphs" stroke="#202020" stroke-width="0.22">Itching</text>
<text x="274.80" y="56.90" font-size="5.5" fill="#202020" text-anchor="middle" textLength="43.90" lengthAdjust="spacingAndGlyphs" stroke="#202020" stroke-width="0.22">Feeling of a foreign</text>
<g clip-path="url(#cb)">
<text x="274.90" y="65.30" font-size="5.5" fill="#202020" text-anchor="middle" textLength="12.20" lengthAdjust="spacingAndGlyphs" stroke="#202020" stroke-width="0.22">body</text>
</g>
<text x="273.55" y="74.60" font-size="5.5" fill="#202020" text-anchor="middle" textLength="16.70" lengthAdjust="spacingAndGlyphs" stroke="#202020" stroke-width="0.22">Tearing</text>
<text x="273.90" y="91.50" font-size="5.5" fill="#202020" text-anchor="middle" textLength="40.40" lengthAdjust="spacingAndGlyphs" stroke="#202020" stroke-width="0.22">Excessive blinking</text>
<text x="273.45" y="106.90" font-size="5.5" fill="#202020" text-anchor="middle" textLength="26.70" lengthAdjust="spacingAndGlyphs" stroke="#202020" stroke-width="0.22">Eye redness</text>
<text x="274.35" y="124.20" font-size="5.5" fill="#202020" text-anchor="middle" textLength="19.10" lengthAdjust="spacingAndGlyphs" stroke="#202020" stroke-width="0.22">Eye pain</text>
<text x="276.45" y="140.90" font-size="5.5" fill="#202020" text-anchor="middle" textLength="30.90" lengthAdjust="spacingAndGlyphs" stroke="#202020" stroke-width="0.22">Heavy eyelids</text>
<text x="274.40" y="158.60" font-size="5.5" fill="#202020" text-anchor="middle" textLength="18.00" lengthAdjust="spacingAndGlyphs" stroke="#202020" stroke-width="0.22">Dryness</text>
<text x="275.55" y="176.90" font-size="5.0" fill="#202020" text-anchor="middle" textLength="28.90" lengthAdjust="spacingAndGlyphs" stroke="#202020" stroke-width="0.22">Blurred vision</text>
<text x="273.45" y="192.70" font-size="5.0" fill="#202020" text-anchor="middle" textLength="28.50" lengthAdjust="spacingAndGlyphs" stroke="#202020" stroke-width="0.22">Double vision</text>
<text x="272.35" y="209.90" font-size="5.5" fill="#202020" text-anchor="middle" textLength="73.50" lengthAdjust="spacingAndGlyphs" stroke="#202020" stroke-width="0.22">Difficulty focusing for near vision</text>
<text x="273.75" y="226.70" font-size="5.5" fill="#202020" text-anchor="middle" textLength="51.70" lengthAdjust="spacingAndGlyphs" stroke="#202020" stroke-width="0.22">Increased sensitivity to</text>
<g clip-path="url(#cl)">
<text x="273.90" y="234.60" font-size="5.5" fill="#202020" text-anchor="middle" textLength="9.80" lengthAdjust="spacingAndGlyphs" stroke="#202020" stroke-width="0.22">light</text>
</g>
<text x="272.45" y="243.90" font-size="5.5" fill="#202020" text-anchor="middle" textLength="64.90" lengthAdjust="spacingAndGlyphs" stroke="#202020" stroke-width="0.22">Colored halos around objects</text>
<text x="272.70" y="260.90" font-size="5.5" fill="#202020" text-anchor="middle" textLength="68.40" lengthAdjust="spacingAndGlyphs" stroke="#202020" stroke-width="0.22">Feeling that sight is worsening</text>
<text x="275.85" y="277.10" font-size="5.5" fill="#202020" text-anchor="middle" textLength="22.30" lengthAdjust="spacingAndGlyphs" stroke="#202020" stroke-width="0.22">Headache</text>
<text x="53.90" y="305.60" font-size="5.6" fill="#202020" text-anchor="middle" textLength="11.40" lengthAdjust="spacingAndGlyphs" stroke="#202020" stroke-width="0.22">Male</text>
<rect x="70.20" y="297.80" width="4.00" height="3.80" fill="#5DFAC7"/>
<rect x="70.20" y="304.00" width="4.00" height="3.80" fill="#1ED35A"/>
<text x="80.90" y="301.50" font-size="5.6" fill="#202020" text-anchor="start" textLength="29.60" lengthAdjust="spacingAndGlyphs" stroke="#202020" stroke-width="0.22">Occasionally</text>
<text x="80.90" y="308.00" font-size="5.6" fill="#202020" text-anchor="start" textLength="37.60" lengthAdjust="spacingAndGlyphs" stroke="#202020" stroke-width="0.22">Often or always</text>
<text x="127.20" y="301.80" font-size="5.6" fill="#202020" text-anchor="middle" textLength="5.00" lengthAdjust="spacingAndGlyphs" stroke="#202020" stroke-width="0.22">%</text>
<text x="146.70" y="306.50" font-size="5.6" fill="#202020" text-anchor="middle" textLength="17.20" lengthAdjust="spacingAndGlyphs" stroke="#202020" stroke-width="0.22">Female</text>
<rect x="164.20" y="297.60" width="4.00" height="3.80" fill="#FAC28D"/>
<rect x="164.20" y="303.80" width="4.00" height="3.80" fill="#FC8704"/>
<text x="174.90" y="301.50" font-size="5.6" fill="#202020" text-anchor="start" textLength="29.60" lengthAdjust="spacingAndGlyphs" stroke="#202020" stroke-width="0.22">Occasionally</text>
<text x="174.90" y="308.00" font-size="5.6" fill="#202020" text-anchor="start" textLength="37.80" lengthAdjust="spacingAndGlyphs" stroke="#202020" stroke-width="0.22">Often or always</text>
<text x="362.40" y="304.00" font-size="5.6" fill="#202020" text-anchor="middle" textLength="12.00" lengthAdjust="spacingAndGlyphs" stroke="#202020" stroke-width="0.22">Male</text>
<rect x="374.90" y="296.80" width="3.90" height="3.40" fill="#5DFAC7"/>
<rect x="374.90" y="302.60" width="3.90" height="3.60" fill="#1ED35A"/>
<text x="384.00" y="301.00" font-size="5.6" fill="#202020" text-anchor="start" textLength="24.00" lengthAdjust="spacingAndGlyphs" stroke="#202020" stroke-width="0.22">Moderate</text>
<text x="384.00" y="307.00" font-size="5.6" fill="#202020" text-anchor="start" textLength="18.40" lengthAdjust="spacingAndGlyphs" stroke="#202020" stroke-width="0.22">Intense</text>
<text x="430.80" y="297.00" font-size="5.6" fill="#202020" text-anchor="middle" textLength="4.40" lengthAdjust="spacingAndGlyphs" stroke="#202020" stroke-width="0.22">%</text>
<text x="451.20" y="304.60" font-size="5.6" fill="#202020" text-anchor="middle" textLength="17.60" lengthAdjust="spacingAndGlyphs" stroke="#202020" stroke-width="0.22">Female</text>
<rect x="467.00" y="296.30" width="4.00" height="3.40" fill="#FAC28D"/>
<rect x="467.00" y="302.40" width="4.00" height="3.60" fill="#FC8704"/>
<text x="476.00" y="301.00" font-size="5.6" fill="#202020" text-anchor="start" textLength="23.60" lengthAdjust="spacingAndGlyphs" stroke="#202020" stroke-width="0.22">Moderate</text>
<text x="476.00" y="307.00" font-size="5.6" fill="#202020" text-anchor="start" textLength="18.00" lengthAdjust="spacingAndGlyphs" stroke="#202020" stroke-width="0.22">Intense</text>
</svg>
</body></html>
